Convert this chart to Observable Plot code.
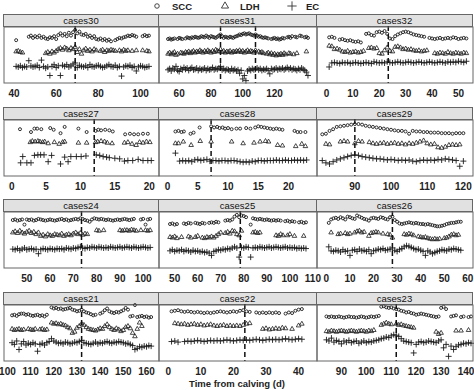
<!DOCTYPE html>
<html><head><meta charset="utf-8">
<script src="https://cdn.jsdelivr.net/npm/d3@7"></script>
<script src="https://cdn.jsdelivr.net/npm/@observablehq/plot@0.6"></script>
<style>
body{margin:0;background:#fff;font-family:"Liberation Sans",Arial,sans-serif;}
#root{position:relative;width:474px;height:390px;overflow:hidden;background:#fff;}
.strip{position:absolute;box-sizing:border-box;background:#e1e1e1;border:1px solid #666;font-size:9.5px;text-align:center;line-height:11px;color:#111;}
.lg{position:absolute;font-size:9.5px;font-weight:bold;color:#222;line-height:11px;}
.title{position:absolute;left:0;width:474px;text-align:center;font-size:9.5px;font-weight:bold;color:#222;}
</style></head><body><div id="root"></div>
<script>
const seriesNames = ["SCC", "LDH", "EC"];

// cases30 (one value per day starting at day 41)
const cases30_start = 41;
const cases30_scc = [76,null,null,null,null,null,82,84,80,83,81,84,80,82,79,78,81,80,83,78,85,88,84,87,83,89,84,90,94,88,91,86,85,87,82,84,80,83,78,77,79,76,78,75,77,74,null,76,78,80,79,81,82,84,83,85,84,82,null,null,83,85,83,84];
const cases30_ldh = [56,57,55,54,null,null,null,null,null,null,null,null,null,null,53,55,52,56,54,57,60,62,59,63,61,58,62,60,64,55,60,52,58,61,57,59,56,60,58,null,57,59,55,58,57,59,58,57,null,58,56,59,57,58,null,57,null,58,null,null,58,null,57,56];
const cases30_ec = [30,29,31,28,30,29,40,31,29,30,32,28,41,30,27,29,14,30,33,28,31,14,32,30,33,29,31,34,36,28,32,30,29,31,28,33,30,29,31,32,30,28,29,31,33,30,29,32,28,30,13,29,31,30,32,28,30,22,29,31,30,28,29,30];
const cases30_calving = [69];
const cases30_ticks = [40, 60, 80, 100];

// cases31 (from day 53)
const cases31_start = 53;
const cases31_scc = [78,79,77,78,79,null,78,80,79,78, null,79,81,80,79,81,80,82,81,80, 81,83,82,81,84,82,80,83,82,81, 80,82,84,86,83,80,82,81,80,82, 81,80,82,83,84,86,85,87,88,86, 87,88,86,85,84,86,84,82,83,81, 80,81,80,79,null,78,79,80,78,79, 77,78,80,79,null,81,82,80,83,null, 82,81,null,84,83,null,81,82,80];
const cases31_ldh = [52,54,51,53,55,50,52,null,54,53, 52,55,54,56,53,55,57,54,56,55, 58,56,54,57,55,58,56,54,57,55, 59,57,56,60,55,57,54,56,55,57, 54,56,55,57,56,58,55,57,54,56, 58,55,57,56,54,58,null,56,54,55, 53,null,52,54,51,53,50,52,49,51, 50,52,50,53,51,null,53,52,null,51, null,53,null,null,null,null,null,56,null];
const cases31_ec = [24,26,22,27,25,30,23,21,26,24, 28,25,27,23,26,28,24,25,27,23, 26,24,25,27,23,26,24,25,28,24, 26,25,27,30,24,26,23,25,24,22, 26,23,25,22,24,18,23,8,14,5, 22,25,23,26,24,25,27,24,26,23, 25,24,26,23,17,26,24,25,27,24, 26,25,27,24,26,28,25,27,24,26, 25,23,26,24,27,25,23,20,14];
const cases31_calving = [86, 108];
const cases31_ticks = [60, 80, 100, 120];

// cases32 (from day 1)
const cases32_start = 1;
const cases32_scc = [81,82,80,null,77,78,76,75,76,74, 73,74,72,null,87,88,85,84,90,91, 89,92,87,79,78,83,86,88,90,91, 90,88,86,85,84,83,82,null,80,79, 78,79,80,78,79,80,79,81,80,78, 79,80,79];
const cases32_ldh = [66,65,60,61,59,56,55,57,54,55, 56,54,55,57,null,62,63,61,62,53, 52,58,63,57,56,64,65,63,60,61, 59,60,58,57,58,56,57,58,null,null, 53,52,54,53,52,55,53,52,54,53, 52,54,53];
const cases32_ec = [29,36,37,36,35,37,36,37,35,36, 37,36,35,36,37,36,35,38,37,36, 37,36,38,37,36,37,38,37,36,37, 38,37,36,37,38,37,36,37,38,37, 36,37,38,37,36,38,37,38,37,39, 38,37,39];
const cases32_calving = [23.4];
const cases32_ticks = [0, 10, 20, 30, 40, 50];

// cases27 (sparse: explicit days)
const cases27_scc_days = [1.2,2.8,3.3,3.7,4.3,5.6,6.1,7.1,7.7,9.7,10.9,12.2,12.6,13.0,13.6,14.2,14.7,16.5,17.2,17.8,18.4,19.1,19.8];
const cases27_scc = [83,78,84,84,83,85,82,76,87,84,78,80,82,81,82,81,79,74,75,74,74,75,75];
const cases27_ldh_days = [2.7,3.0,3.4,3.8,4.1,4.5,4.8,5.3,6.2,6.9,7.4,7.7,9.7,10.9,12.2,12.5,13.0,13.5,13.9,14.6,16.4,16.9,17.5,18.1,18.6,19.1,19.6,20.1];
const cases27_ldh = [60,62,61,62,61,60,61,58,60,57,60,61,59,59,60,61,62,61,59,58,59,60,57,55,60,59,61,60];
const cases27_ec_days = [1.3,1.6,2.2,2.8,3.3,3.8,4.2,4.7,5.3,5.8,7.1,7.7,8.2,8.6,9.4,10.1,10.8,12.3,12.8,13.3,13.8,14.2,15.0,15.7,16.4,16.9,17.6,18.4,19.1,19.8,20.3];
const cases27_ec = [24,35,24,24,37,38,38,38,26,37,22,34,26,35,35,35,36,38,37,35,34,33,32,31,27,28,28,30,28,28,28];
const cases27_calving = [12];
const cases27_ticks = [0, 5, 10, 15, 20];

// cases28 (sparse: explicit days)
const cases28_scc_days = [1.3,1.8,2.3,2.7,3.8,4.3,5.3,7.2,7.7,8.2,8.6,9.1,9.5,10.0,10.6,11.4,12.0,13.0,13.7,14.5,15.0,15.5,16.0,16.5,17.0,17.5,18.0,18.5,19.0,21.0,21.5,22.0,22.8];
const cases28_scc = [79,80,78,79,75,77,86,88,86,87,85,86,84,85,83,84,84,85,84,86,88,87,86,85,84,83,84,83,82,80,78,78,78];
const cases28_ldh_days = [1.3,1.8,2.6,3.9,5.4,7.2,10.6,12.5,14.3,15.3,16.2,16.7,18.2,19.0,21.2,22.2,22.8];
const cases28_ldh = [58,58,61,55,62,61,61,58,59,61,62,61,55,54,53,57,53];
const cases28_ec_days = [1.3,2.0,2.5,3.0,3.5,4.0,4.5,5.0,5.5,6.0,6.5,7.0,7.5,8.0,8.5,9.0,9.5,10.0,10.5,11.0,11.5,12.0,12.5,13.0,13.5,14.0,14.5,15.0,15.5,16.0,16.5,17.0,17.5,18.0,18.5,19.0,19.5,20.0,20.5,21.0,21.5,22.0,22.5,23.0];
const cases28_ec = [41,27,28,27,28,26,29,30,28,29, 30,27,28,28,27,28,28,27,28,28, 27,26,25,26,25,27,26,28,28,27, 28,28,28,29,28,28,29,28,28,29, 28,29,28,29];
const cases28_calving = [7.2];
const cases28_ticks = [0, 5, 10, 15, 20];

// cases29 (from day 81)
const cases29_start = 81;
const cases29_scc = [74,75,80,83,87,88,89,90,91,92, 92,91,89,88,87,86,85,84,83,82, 81,80,80,79,75,80,79,79,78,78, 77,77,77,76,76,76,75,76,76,76];
const cases29_ldh = [null,57,56,null,null,61,62,61,null,58, 62,61,null,60,58,57,58,59,57,58, 59,57,58,56,58,57,59,61,63,58, 56,57,51,50,52,55,56,55,56,null];
const cases29_ec = [28,24,22,26,29,31,33,35,37,38, 37,35,34,33,32,31,31,30,29,30, 29,28,29,28,29,27,26,28,29,28, 29,28,30,29,31,30,29,28,18,27];
const cases29_calving = [90];
const cases29_ticks = [90, 100, 110, 120];

// cases24 (from day 44)
const cases24_start = 44;
const cases24_scc = [85,86,84,85,86,77,86,85,86,84, 85,87,86,85,84,85,86,85,84,85, 86,87,85,86,84,85,86,87,86,88, 87,85,84,82,86,88,87,86,87,86, 85,86,85,84,85,86,85,86,87,86, 85,86,87,null,null,86,87,77,86,87];
const cases24_ldh = [63,65,62,66,63,61,64,66,62,64, 60,63,57,59,56,60,58,57,60,59, 58,61,57,59,60,58,61,63,60,62, 59,61,60,null,null,null,67,66,null,67, null,null,null,null,null,null,67,66,67,67, 66,68,67,66,null,67,null,67,66,67];
const cases24_ec = [34,33,35,32,34,36,33,34,35,33, 34,26,33,35,34,33,35,34,33,35, 34,35,33,36,35,34,36,35,37,38, 36,35,37,36,38,37,36,38,37,36, 37,36,38,37,36,37,38,36,37,38, 37,36,38,37,36,37,38,37,36,37];
const cases24_calving = [73.5];
const cases24_ticks = [50, 60, 70, 80, 90, 100];

// cases25 (from day 48)
const cases25_start = 48;
const cases25_scc = [78,79,77,78,null,null,79,78,80,79, null,80,79,78,80,79,null,80,81,80, 82,81,null,null,84,85,84,86,91,94, 90,93,92,90,null,77,88,87,86,87, 86,85,86,85,84,85,84,85,84,null, 83,84,82,83,82,null,81,82,80,81];
const cases25_ldh = [55,54,56,53,null,55,null,null,56,54, null,55,57,null,54,53,55,54,56,54, 57,60,63,null,62,64,61,66,65,60, 58,66,null,null,null,null,63,64,62,63, null,null,null,null,null,null,58,57,60,58, null,58,60,null,57,null,null,null,57,null];
const cases25_ec = [31,33,30,32,31,33,30,32,31,29, 32,30,31,29,30,28,29,27,23,30, 31,33,32,34,33,35,34,36,38,36, 20,37,36,38,37,20,36,37,36,38, 37,36,37,38,36,37,38,37,36,37, 38,36,37,36,37,35,36,35,36,35];
const cases25_calving = [78.5];
const cases25_ticks = [50, 60, 70, 80, 90, 100, 110];

// cases26 (from day 1)
const cases26_start = 1;
const cases26_scc = [80,86,88,89,87,90,88,86,91,90, 88,87,93,91,89,87,86,84,88,89, 88,87,90,89,87,86,90,91,85,82, 79,78,79,80,81,80,79,80,79,78, 78,77,78,77,76,75,74,74,75,76, 78,79,80,80,81,82,82];
const cases26_ldh = [null,63,null,null,60,61,null,62,60,61, null,63,65,66,63,64,null,57,62,63, 64,63,null,61,null,60,59,54,null,null, null,null,60,59,61,60,58,null,56,55, 54,55,53,52,51,52,51,52,null,53, 54,56,59,60,58,59,null];
const cases26_ec = [38,31,30,32,31,29,33,30,31,23, 32,33,30,34,31,32,30,33,26,31, 32,34,33,35,32,33,34,36,32,30, 33,35,38,40,39,37,35,33,34,32, 30,23,31,29,26,28,30,31,33,32, 31,34,33,35,34,33,32];
const cases26_calving = [28];
const cases26_ticks = [0, 10, 20, 30, 40, 50, 60];

// cases21 (from day 102)
const cases21_start = 102;
const cases21_scc = [81,82,80,83,84,84,82,83,81,80, 81,82,80,81,79,82,null,95,93,94, 92,93,91,92,93,94,91,90,88,89, 91,88,86,85,83,81,82,null,84,86, 90,93,88,86,85,87,86,88,90,94, 91,79,80,99,78,79,80,78,79,77, 78];
const cases21_ldh = [57,55,56,57,55,56,null,57,56,55, 57,null,56,57,55,56,null,68,66,67, 65,66,64,63,60,58,50,52,59,62, 66,64,60,57,56,55,54,56,58,57, 62,65,60,57,55,58,56,53,55,60, 62,58,50,44,57,68,62,null,null,null, null];
const cases21_ec = [33,30,36,21,31,35,29,32,30,33, 31,18,30,32,29,33,35,40,36,34, 32,33,31,34,33,31,32,34,33,35, 37,33,32,31,30,32,34,31,33,32, 34,35,33,32,34,33,35,34,33,31, 32,30,28,21,23,26,25,27,26,28, 27];
const cases21_calving = [132];
const cases21_ticks = [100, 110, 120, 130, 140, 150, 160];

// cases22 (from day 1)
const cases22_start = 1;
const cases22_scc = [88,89,90,88,87,88,87,86,87,86, 85,86,85,86,87,88,87,86,87,88, 87,89,90,88,87,null,86,85,86,85, 86,85,86,85,null,84,86,85,89,91, 92];
const cases22_ldh = [null,67,66,65,66,64,65,66,64,65, 63,64,65,63,62,63,64,62,63,62, 63,62,64,66,67,null,null,null,57,58, 56,57,58,57,59,58,null,57,null,63, 66];
const cases22_ec = [35,36,34,null,35,36,35,36,37,36, 35,36,37,36,37,36,37,38,37,36, 37,38,37,38,37,38,39,38,37,38, 39,38,39,38,39,40,39,38,39,40, 39];
const cases22_calving = [23.5];
const cases22_ticks = [0, 10, 20, 30, 40];

// cases23 (from day 84)
const cases23_start = 84;
const cases23_scc = [79,78,79,78,78,79,78,77,78,79, 78,78,77,78,79,78,77,78,79,78, 79,80,96,97,95,94,95,93,92,91, 89,88,86,87,85,84,82,83,84,83, 82,81,80,79,78,79,94,96,92,null, 79,80,81,null,78,79,null,78,79];
const cases23_ldh = [53,52,54,53,52,53,54,53,52,53, 54,53,52,53,54,53,52,54,53,55, null,null,64,66,68,66,65,null,66,64, 65,63,62,61,60,59,null,null,null,null, null,null,null,null,52,48,50,null,null,null, null,null,54,null,54,null,null,55,null];
const cases23_ec = [38,36,41,34,37,35,31,36,34,37, 33,35,36,32,34,36,33,35,34,36, 37,38,40,41,43,42,45,47,46,44, 40,36,35,34,33,15,30,34,35,33, 34,36,35,34,33,36,38,24,30,9, 27,21,26,29,30,32,31,33,32];
const cases23_calving = [112];
const cases23_ticks = [90, 100, 110, 120, 130, 140];

// ---------- helpers ----------
function daily(start, vals, s) {
  return vals.map((v, i) => ({day: start + i, y: v, s})).filter(d => d.y != null);
}
function pairs(days, vals, s) {
  return days.map((d, i) => ({day: d, y: vals[i], s})).filter(d => d.y != null);
}

const panels = [
  {name: "cases30", row: 0, col: 0, domain: [35, 109], ticks: cases30_ticks, calving: cases30_calving,
   scc: daily(cases30_start, cases30_scc, "SCC"), ldh: daily(cases30_start, cases30_ldh, "LDH"), ec: daily(cases30_start, cases30_ec, "EC")},
  {name: "cases31", row: 0, col: 1, domain: [47, 147], ticks: cases31_ticks, calving: cases31_calving,
   scc: daily(cases31_start, cases31_scc, "SCC"), ldh: daily(cases31_start, cases31_ldh, "LDH"), ec: daily(cases31_start, cases31_ec, "EC")},
  {name: "cases32", row: 0, col: 2, domain: [-3.8, 55.7], ticks: cases32_ticks, calving: cases32_calving,
   scc: daily(cases32_start, cases32_scc, "SCC"), ldh: daily(cases32_start, cases32_ldh, "LDH"), ec: daily(cases32_start, cases32_ec, "EC")},
  {name: "cases27", row: 1, col: 0, domain: [-1.2, 21.5], ticks: cases27_ticks, calving: cases27_calving,
   scc: pairs(cases27_scc_days, cases27_scc, "SCC"), ldh: pairs(cases27_ldh_days, cases27_ldh, "LDH"), ec: pairs(cases27_ec_days, cases27_ec, "EC")},
  {name: "cases28", row: 1, col: 1, domain: [-1.5, 24.8], ticks: cases28_ticks, calving: cases28_calving,
   scc: pairs(cases28_scc_days, cases28_scc, "SCC"), ldh: pairs(cases28_ldh_days, cases28_ldh, "LDH"), ec: pairs(cases28_ec_days, cases28_ec, "EC")},
  {name: "cases29", row: 1, col: 2, domain: [79.4, 122.8], ticks: cases29_ticks, calving: cases29_calving,
   scc: daily(cases29_start, cases29_scc, "SCC"), ldh: daily(cases29_start, cases29_ldh, "LDH"), ec: daily(cases29_start, cases29_ec, "EC")},
  {name: "cases24", row: 2, col: 0, domain: [40, 107], ticks: cases24_ticks, calving: cases24_calving,
   scc: daily(cases24_start, cases24_scc, "SCC"), ldh: daily(cases24_start, cases24_ldh, "LDH"), ec: daily(cases24_start, cases24_ec, "EC")},
  {name: "cases25", row: 2, col: 1, domain: [43, 112], ticks: cases25_ticks, calving: cases25_calving,
   scc: daily(cases25_start, cases25_scc, "SCC"), ldh: daily(cases25_start, cases25_ldh, "LDH"), ec: daily(cases25_start, cases25_ec, "EC")},
  {name: "cases26", row: 2, col: 2, domain: [-4.2, 62.4], ticks: cases26_ticks, calving: cases26_calving,
   scc: daily(cases26_start, cases26_scc, "SCC"), ldh: daily(cases26_start, cases26_ldh, "LDH"), ec: daily(cases26_start, cases26_ec, "EC")},
  {name: "cases21", row: 3, col: 0, domain: [98.3, 165.6], ticks: cases21_ticks, calving: cases21_calving,
   scc: daily(cases21_start, cases21_scc, "SCC"), ldh: daily(cases21_start, cases21_ldh, "LDH"), ec: daily(cases21_start, cases21_ec, "EC")},
  {name: "cases22", row: 3, col: 1, domain: [-3, 45.8], ticks: cases22_ticks, calving: cases22_calving,
   scc: daily(cases22_start, cases22_scc, "SCC"), ldh: daily(cases22_start, cases22_ldh, "LDH"), ec: daily(cases22_start, cases22_ec, "EC")},
  {name: "cases23", row: 3, col: 2, domain: [80, 143], ticks: cases23_ticks, calving: cases23_calving,
   scc: daily(cases23_start, cases23_scc, "SCC"), ldh: daily(cases23_start, cases23_ldh, "LDH"), ec: daily(cases23_start, cases23_ec, "EC")}
];

// ---------- layout ----------
const colX = [3, 158, 316], colW = [155, 158, 156];
const stripTop = [14, 107, 199, 292];
const stripH = 12, panelH = 57, axisH = 22;
const ink = "#1c1c1c";

const root = document.getElementById("root");

for (const p of panels) {
  const x0 = colX[p.col], w = colW[p.col], t = stripTop[p.row];
  const strip = document.createElement("div");
  strip.className = "strip";
  Object.assign(strip.style, {left: x0 + "px", top: t + "px", width: (w + 1) + "px", height: (stripH + 1) + "px"});
  strip.textContent = p.name;
  root.appendChild(strip);

  const chart = Plot.plot({
    width: w + 1, height: panelH + axisH,
    marginTop: 0, marginBottom: axisH, marginLeft: 0, marginRight: 0,
    x: {domain: p.domain, ticks: p.ticks, tickSize: 0, tickPadding: 6, label: null},
    y: {domain: [0, 100], axis: null},
    style: {fontFamily: "'Liberation Sans', Arial, sans-serif", fontSize: "10px", fontWeight: "bold", color: "#222", background: "transparent", overflow: "visible"},
    marks: [
      Plot.dot(p.ec, {x: "day", y: "y", symbol: "plus", r: 2.1, stroke: ink, fill: "none", strokeWidth: 0.9}),
      Plot.dot(p.ldh, {x: "day", y: "y", symbol: "triangle", r: 1.7, stroke: ink, fill: "none", strokeWidth: 0.8}),
      Plot.dot(p.scc, {x: "day", y: "y", symbol: "circle", r: 1.5, stroke: ink, fill: "none", strokeWidth: 0.9}),
      Plot.ruleX(p.calving, {stroke: "#111", strokeWidth: 1.5, strokeDasharray: "5,3"}),
      Plot.frame({stroke: "#666", inset: 0.5})
    ]
  });
  Object.assign(chart.style, {position: "absolute", left: x0 + "px", top: (t + stripH) + "px"});
  root.appendChild(chart);
}

// ---------- legend ----------
const legendItems = [
  {label: seriesNames[0], sym: "circle", sx: 157, tx: 172},
  {label: seriesNames[1], sym: "triangle", sx: 225, tx: 240},
  {label: seriesNames[2], sym: "plus", sx: 292, tx: 306}
];
const ns = "http://www.w3.org/2000/svg";
for (const it of legendItems) {
  const svg = document.createElementNS(ns, "svg");
  svg.setAttribute("width", 12); svg.setAttribute("height", 12);
  svg.style.position = "absolute"; svg.style.left = (it.sx - 6) + "px"; svg.style.top = "0px";
  const path = document.createElementNS(ns, "path");
  const sym = {circle: d3.symbolCircle, triangle: d3.symbolTriangle, plus: d3.symbolPlus}[it.sym];
  const size = it.sym === "circle" ? 16 : it.sym === "triangle" ? 22 : 30;
  path.setAttribute("d", d3.symbol(sym, size)());
  path.setAttribute("transform", "translate(6,6)");
  path.setAttribute("fill", "none"); path.setAttribute("stroke", "#333"); path.setAttribute("stroke-width", 0.9);
  svg.appendChild(path);
  root.appendChild(svg);
  const span = document.createElement("div");
  span.className = "lg";
  span.style.left = it.tx + "px"; span.style.top = "1px";
  span.textContent = it.label;
  root.appendChild(span);
}

// ---------- axis title ----------
const title = document.createElement("div");
title.className = "title";
title.style.top = "378px";
title.textContent = "Time from calving (d)";
root.appendChild(title);
</script>
</body></html>
